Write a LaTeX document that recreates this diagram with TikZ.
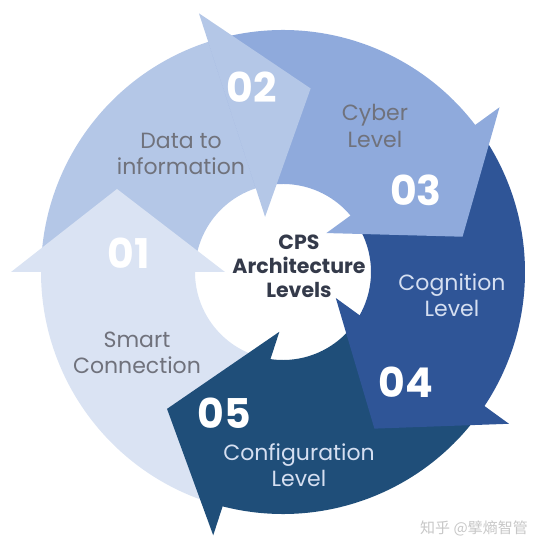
\documentclass[tikz,border=0pt]{standalone}
\usepackage{fontspec}
\setmainfont{Poppins}
\newfontfamily\cjkfont{Noto Sans CJK SC}
\usetikzlibrary{calc}

\definecolor{levelOne}{HTML}{DAE3F3}
\definecolor{levelTwo}{HTML}{B4C7E7}
\definecolor{levelThree}{HTML}{8FAADC}
\definecolor{levelFour}{HTML}{2F5597}
\definecolor{levelFive}{HTML}{1F4E79}
\definecolor{labelGray}{RGB}{112,114,124}
\definecolor{labelLight}{HTML}{D5DFF1}
\definecolor{centreText}{RGB}{52,58,74}

\begin{document}
\begin{tikzpicture}[x=1pt,y=1pt,
    label node/.style={align=center,font=\fontsize{22}{26.5}\selectfont,text=labelGray},
    number node/.style={font=\fontsize{41}{41}\selectfont\bfseries,text=white}]
  \useasboundingbox (0,0) rectangle (547,550);
  \coordinate (Centre) at (283,278);

  % ring parts, clockwise from the head before to this head
  \foreach \startAng/\endAng/\col in {252/180/levelOne,180/108/levelTwo,108/36/levelThree,36/-36/levelFour,-36/-108/levelFive}
    \fill[\col] ($(Centre)+(\startAng:242)$) arc[start angle=\startAng,end angle=\endAng,radius=242]
      -- ($(Centre)+(\endAng:88)$) arc[start angle=\endAng,end angle=\startAng,radius=88] -- cycle;

  % arrow heads over the next part
  \foreach \ang/\off/\col in {180/0/levelOne,108/0/levelTwo,36/6/levelThree,-36/10/levelFour,-108/15/levelFive}
    \fill[\col] ($(Centre)+(\ang:58)+(\ang+90:\off)$) -- ($(Centre)+(\ang:272)+(\ang+90:\off)$)
      -- ($(Centre)+(\ang:166)+(\ang-90:83-\off)$) -- cycle;

  \node[number node] (numOne) at (129,297) {01};
  \node[number node] (numTwo) at (252,463) {02};
  \node[number node] (numThree) at (416,360) {03};
  \node[number node] (numFour) at (406,168) {04};
  \node[number node] (numFive) at (224,137) {05};

  \node[label node] (smartConnection) at (137,197) {Smart\\Connection};
  \node[label node] (dataInformation) at (181,396) {Data to\\information};
  \node[label node] (cyberLevel) at (375,424) {Cyber\\Level};
  \node[label node,text=labelLight] (cognitionLevel) at (452,255) {Cognition\\Level};
  \node[label node,text=labelLight] (configurationLevel) at (299,85) {Configuration\\Level};

  \node[align=center,font=\fontsize{20.5}{24}\selectfont\bfseries,text=centreText] (cpsLevels) at (299,284) {CPS\\Architecture\\Levels};

  \node[font=\cjkfont\fontsize{15}{15}\selectfont,text=black!22] (watermark) at (474,22) {知乎 @擘熵智管};
\end{tikzpicture}
\end{document}
